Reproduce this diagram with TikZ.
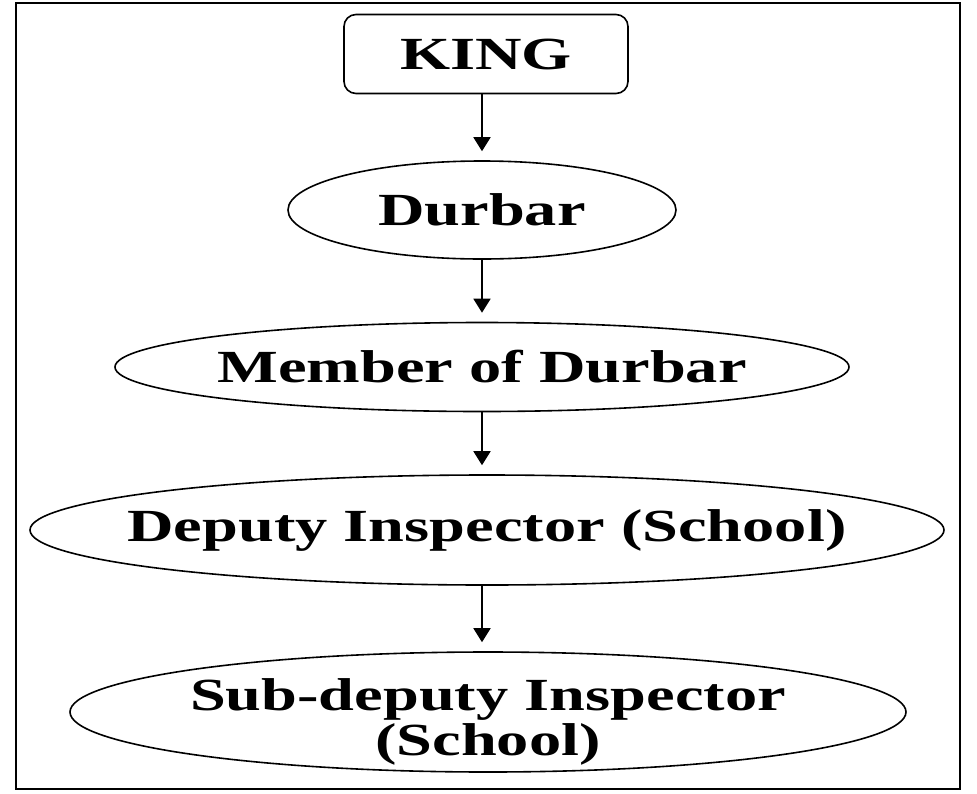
\documentclass[tikz,border=0pt]{standalone}
\usepackage{fontspec}
\setmainfont{Liberation Serif}[FakeStretch=1.4]
\usetikzlibrary{arrows.meta, shapes.geometric}
\newcommand{\chartfont}{\fontsize{46}{45}\selectfont\bfseries}
\tikzset{
    % Hierarchy nodes
    kingbox/.style={rectangle, rounded corners=12pt, draw=black, line width=1.6pt,
                minimum width=284pt, minimum height=79pt, font=\chartfont},
    oval/.style={ellipse, draw=black, line width=1.6pt, inner sep=0pt},
    ovaltext/.style={font=\chartfont, align=center},
    % Connectors
    darrow/.style={-{Triangle[length=14pt, width=17pt]}, line width=1.8pt, shorten >=9pt},
    % Frame
    frame/.style={draw=black, line width=2.5pt},
}
\begin{document}
\begin{tikzpicture}[x=1pt, y=-1pt]
\useasboundingbox (0,0) rectangle (977,793);
\draw[frame] (16,3) rectangle (960,789);

\node[kingbox] (king) at (486,54) {KING};
\node[oval, minimum width=388pt, minimum height=98pt,
      label={[ovaltext]center:Durbar}] (durbar) at (482,210) {};
\node[oval, minimum width=734pt, minimum height=89pt,
      label={[ovaltext]center:Member of Durbar}] (member) at (482,367) {};
\node[oval, minimum width=914pt, minimum height=110pt,
      label={[ovaltext]center:Deputy Inspector (School)}] (deputy) at (487,530) {};
\node[oval, minimum width=836pt, minimum height=120pt,
      label={[ovaltext, yshift=-10pt]center:{Sub-deputy Inspector\\(School)}}] (subdeputy) at (488,712) {};

\draw[darrow] (durbar.north |- king.south) -- (durbar.north);
\draw[darrow] (durbar.south) -- (durbar.south |- member.north);
\draw[darrow] (member.south) -- (member.south |- deputy.north);
\draw[darrow] (member.south |- deputy.south) -- (member.south |- subdeputy.north);
\end{tikzpicture}
\end{document}
